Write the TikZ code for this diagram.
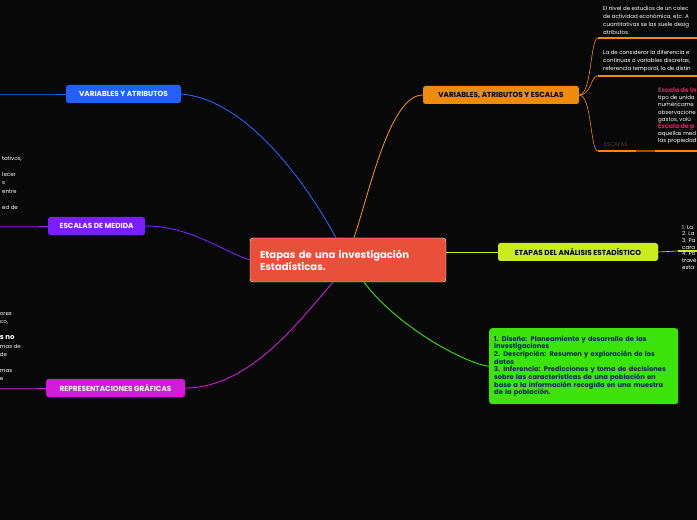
\documentclass[tikz,border=0pt]{standalone}
\usepackage{fontspec}
\setmainfont{Poppins}
\begin{document}
\begin{tikzpicture}[x=1pt,y=1pt,
  topic/.style={rounded corners=2.5pt,text=white,font=\bfseries\fontsize{7.3}{8}\selectfont,minimum height=18pt,inner xsep=4pt},
  small/.style={text=white,font=\fontsize{5.5}{8.2}\selectfont,align=left,anchor=north west,inner sep=0pt},
  conn/.style={line width=0.9pt}]
\fill[black!97!white] (0,0) rectangle (697,520);
\useasboundingbox (0,0) rectangle (697,520);
\clip (0,0) rectangle (697,520);
\definecolor{cred}{HTML}{E8503A}
\definecolor{cblue}{HTML}{2261FF}
\definecolor{cpurp}{HTML}{7A1FFF}
\definecolor{cmag}{HTML}{D21BD8}
\definecolor{corg}{HTML}{EE8A0C}
\definecolor{cyel}{HTML}{C9EC1A}
\definecolor{cgrn}{HTML}{3DE40A}
\definecolor{cpink}{HTML}{E5175E}
\definecolor{cdark}{HTML}{10206A}
% central
\node[draw=white,fill=cred,rounded corners=3pt,text=white,font=\bfseries\fontsize{10}{12}\selectfont,align=left,minimum width=196pt,minimum height=44pt,inner xsep=10pt,text width=176pt] (c) at (348,260) {Etapas de una investigación\\Estadísticas.};
% topics
\node[topic,fill=cblue,minimum width=115pt] (va) at (123.5,426) {VARIABLES Y ATRIBUTOS};
\node[topic,fill=cpurp,minimum width=97pt] (em) at (96.5,294) {ESCALAS DE MEDIDA};
\node[topic,fill=cmag,minimum width=139pt] (rg) at (115.5,132) {REPRESENTACIONES GRÁFICAS};
\node[topic,fill=corg,minimum width=156pt,text=black] (vae) at (501,425) {VARIABLES, ATRIBUTOS Y ESCALAS};
\node[topic,fill=cyel,minimum width=160pt,text=black] (eae) at (578,268) {ETAPAS DEL ANÁLISIS ESTADÍSTICO};
\node[fill=cgrn,rounded corners=3pt,text width=179pt,minimum width=189pt,minimum height=76pt,inner ysep=5pt,align=left,font={\bfseries\fontsize{6.7}{7.7}\selectfont\hyphenpenalty=10000 },text=cdark,anchor=north west] (grn) at (489,192) {1. Diseño: Planeamiento y desarrollo de las investigaciones\\2. Descripción: Resumen y exploración de los datos\\3. Inferencia: Predicciones y toma de decisiones sobre las características de una población en base a la información recogida en una muestra de la población.};
% connectors from center
\draw[conn,cblue] (c.north) ++(-12,0) .. controls (310,330) and (250,420) .. (va.east);
\draw[conn,cpurp] (c.west) .. controls (220,270) and (190,294) .. (em.east);
\draw[conn,cmag] (c.south) ++(-15,0) .. controls (300,200) and (250,132) .. (rg.east);
\draw[conn,corg] (c.north) ++(6,0) .. controls (370,330) and (390,425) .. (vae.west);
\draw[conn,cyel] (c.east) ++(0,8) -- (eae.west);
\draw[conn,cgrn] (c.south) ++(16,0) .. controls (400,190) and (470,155) .. (grn.west);
% left stubs
\coordinate (l1) at (0,426); \draw[conn,cblue] (l1) -- (46,426) -- (va.west);
\coordinate (l2) at (0,294); \draw[conn,cpurp] (l2) -- (28,294) -- (em.west);
\coordinate (l3) at (0,132); \draw[conn,cmag] (l3) -- (26,132) -- (rg.west);
% right branches
\coordinate (r1) at (598,482); \coordinate (r2) at (598,444); \coordinate (r3) at (598,369);
\draw[corg,line width=0.6pt] (vae.east) .. controls (592,425) and (590,482) .. (r1);
\draw[corg,line width=0.6pt] (vae.east) .. controls (592,425) and (590,444) .. (r2);
\draw[corg,line width=0.6pt] (vae.east) .. controls (592,425) and (590,369) .. (r3);
\draw[corg,line width=1.2pt] (r1) -- (697,482);
\draw[corg,line width=1.2pt] (r2) -- (697,444);
\draw[corg,line width=1.2pt] (r3) -- (636,369);
\draw[corg!60!black,line width=1.2pt] (636,369) -- (655,369);
\draw[corg,line width=1.2pt] (655,369) -- (697,369);
\coordinate (r4) at (678,269);
\draw[cyel,line width=0.6pt] (eae.east) -- (r4);
\draw[cyel,line width=1.5pt] (r4) -- (697,269);
% right texts (as visible at the edge)
\node[small] (t1) at (603,514) {El nivel de estudios de un colec\\de actividad económica, etc. A\\cuantitativas se las suele desig\\atributos.};
\node[small] (t2) at (603,470) {La de considerar la diferencia e\\continuas o variables discretas,\\referencia temporal, la de distin};
\node[small,text=black!75] (t3) at (604,378) {ESCALAS};
\node[small] (t4) at (658,432) {\textcolor{cpink}{\bfseries\fontsize{6.3}{8}\selectfont Escala de In}\\[-1.5pt]tipo de unida\\[-0.8pt]numéricame\\[-0.8pt]observacione\\[-0.8pt]gastos, volú\\[-1.5pt]\textcolor{cpink}{\bfseries\fontsize{6.3}{8}\selectfont Escala de p}\\[-1.5pt]aquellas med\\[-0.8pt]las propiedad};
\node[small] (t5) at (682,295) {1. La\\[-1.5pt]2. La\\[-1.5pt]3. Pa\\[-1.5pt]cara\\[-1.5pt]4. Po\\[-1.5pt]travé\\[-1.5pt]esta};
% left texts
\node[small,anchor=north east] (t6) at (22,364) {tativos,\\\\lecer\\s\\entre\\\\ed de};
\node[small,anchor=north east] (t7) at (21,208) {ores\\co,\\\\{\bfseries\fontsize{7}{8}\selectfont s no}\\mas de\\de\\\\mas\\e};
\end{tikzpicture}
\end{document}
